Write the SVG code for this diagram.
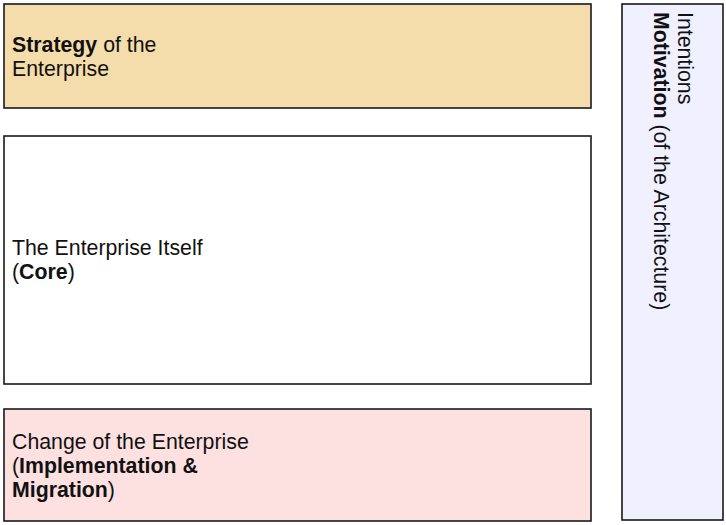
<svg xmlns="http://www.w3.org/2000/svg" width="726" height="525" viewBox="0 0 726 525">
<style>
.box{stroke:#1a1a1a;stroke-width:1.6}
.t{font-family:"Liberation Sans",Arial,Helvetica,sans-serif;font-size:21.3px;fill:#111}
.b{font-weight:bold}
</style>
<rect width="726" height="525" fill="#ffffff"/>
<g id="strategy">
<rect class="box" x="4" y="4" width="587" height="104" fill="#f5ddab"/>
<text class="t" x="12" y="52"><tspan class="b">Strategy</tspan> of the</text>
<text class="t" x="12" y="76">Enterprise</text>
</g>
<g id="core">
<rect class="box" x="4" y="136" width="587" height="248" fill="#ffffff"/>
<text class="t" x="12" y="255">The Enterprise Itself</text>
<text class="t" x="12" y="279">(<tspan class="b">Core</tspan>)</text>
</g>
<g id="change">
<rect class="box" x="4" y="409" width="587" height="112" fill="#fde0e0"/>
<text class="t" x="12" y="449">Change of the Enterprise</text>
<text class="t" x="12" y="473">(<tspan class="b">Implementation &amp;</tspan></text>
<text class="t" x="12" y="497"><tspan class="b">Migration</tspan>)</text>
</g>
<g id="motivation">
<rect class="box" x="622" y="4" width="101" height="516" fill="#f0f0ff"/>
<text class="t" transform="rotate(90)" x="12" y="-678">Intentions</text>
<text class="t" transform="rotate(90)" x="12" y="-654"><tspan class="b">Motivation</tspan> (of the Architecture)</text>
</g>
<g id="connectors"/>
</svg>
